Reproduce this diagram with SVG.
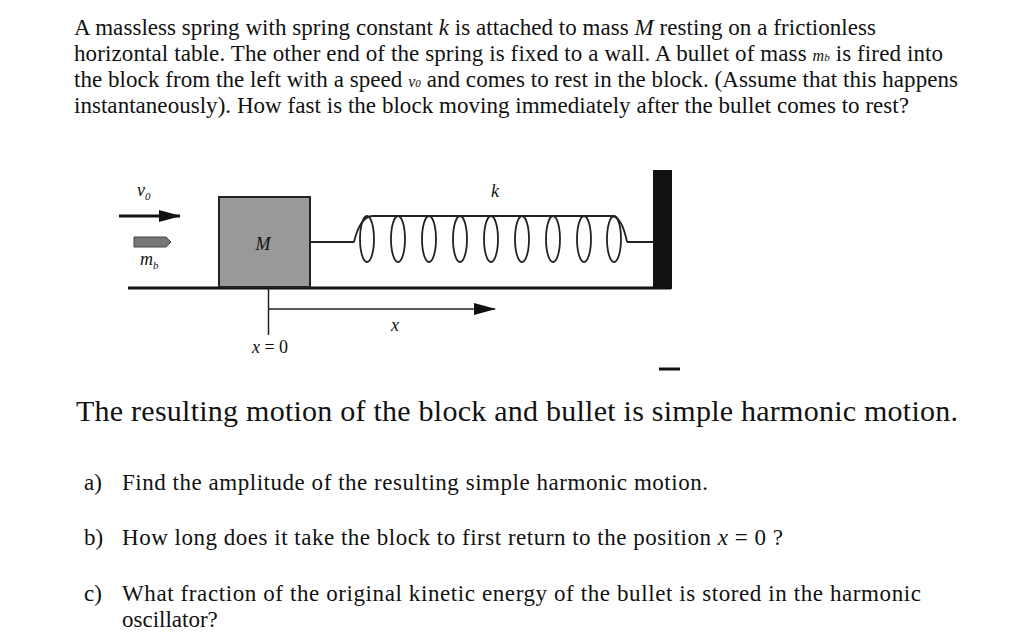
<svg xmlns="http://www.w3.org/2000/svg" width="1024" height="644" viewBox="0 0 1024 644">
<style>
text{font-family:"Liberation Serif",serif;fill:#111}
.p{font-size:23px}
.i{font-style:italic}
.s{fill:none;stroke:#222;stroke-width:1.8}
</style>
<defs><marker id="b" markerWidth="22" markerHeight="12" refX="21" refY="6" orient="auto" markerUnits="userSpaceOnUse"><path d="M0,0L22,6L0,12z" fill="#111"/></marker></defs>
<rect width="1024" height="644" fill="#fff"/>
<g id="question">
<text class="p" x="74" y="35" textLength="802" lengthAdjust="spacing">A massless spring with spring constant <tspan class="i">k</tspan> is attached to mass <tspan class="i">M</tspan> resting on a frictionless</text>
<text class="p" x="74" y="61" textLength="869" lengthAdjust="spacing">horizontal table. The other end of the spring is fixed to a wall. A bullet of mass <tspan class="i" font-size="16">m<tspan font-size="11">b</tspan></tspan> is fired into</text>
<text class="p" x="74" y="87" textLength="884" lengthAdjust="spacing">the block from the left with a speed <tspan class="i" font-size="16">v<tspan font-size="11">0</tspan></tspan> and comes to rest in the block. (Assume that this happens</text>
<text class="p" x="74" y="113" textLength="835" lengthAdjust="spacing">instantaneously). How fast is the block moving immediately after the bullet comes to rest?</text>
</g>
<g id="ground"><line x1="128" y1="288" x2="671" y2="288" stroke="#111" stroke-width="3"/></g>
<g id="wall"><rect x="653" y="170" width="19" height="119" fill="#111"/></g>
<g id="block"><rect x="219" y="197" width="91" height="90" fill="#999" stroke="#222" stroke-width="2"/>
<text x="263" y="250" font-size="18" class="i" text-anchor="middle">M</text></g>
<g id="spring">
<path class="s" d="M310,242H354M627,242H653M354,242Q360,217 372,216H612Q622,217 627,242"/>
<g class="s">
<ellipse cx="367" cy="239" rx="7" ry="23"/><ellipse cx="398" cy="239" rx="7" ry="23"/><ellipse cx="429" cy="239" rx="7" ry="23"/><ellipse cx="460" cy="239" rx="7" ry="23"/><ellipse cx="491" cy="239" rx="7" ry="23"/><ellipse cx="522" cy="239" rx="7" ry="23"/><ellipse cx="553" cy="239" rx="7" ry="23"/><ellipse cx="584" cy="239" rx="7" ry="23"/><ellipse cx="614" cy="239" rx="7" ry="23"/>
</g>
<text x="495" y="197" font-size="18" class="i" text-anchor="middle">k</text></g>
<g id="bullet"><path d="M134,237H166L171,242L166,247H134z" fill="#777" stroke="#444"/>
<text x="140" y="265" font-size="18" class="i">m<tspan font-size="11" dy="4">b</tspan></text></g>
<g id="velocity"><text x="137" y="196" font-size="18" class="i">v<tspan font-size="11" dy="4">0</tspan></text></g>
<g id="connectors">
<line x1="119" y1="216" x2="180" y2="216" stroke="#111" stroke-width="3" marker-end="url(#b)"/>
<line x1="268.5" y1="288" x2="268.5" y2="335" stroke="#222" stroke-width="1.5"/>
<line x1="268.5" y1="309" x2="495" y2="309" stroke="#222" stroke-width="1.5" marker-end="url(#b)"/>
</g>
<g id="labels">
<text x="395" y="331" font-size="18" class="i" text-anchor="middle">x</text>
<text x="270" y="353" font-size="18" text-anchor="middle"><tspan class="i">x</tspan> = 0</text>
<line x1="659" y1="369" x2="680" y2="369" stroke="#111" stroke-width="3"/>
</g>
<g id="parts">
<text x="76" y="421" font-size="30" textLength="882" lengthAdjust="spacing">The resulting motion of the block and bullet is simple harmonic motion.</text>
<text class="p" x="84" y="490">a)</text>
<text class="p" x="122" y="490" textLength="586" lengthAdjust="spacing">Find the amplitude of the resulting simple harmonic motion.</text>
<text class="p" x="84" y="545">b)</text>
<text class="p" x="122" y="545" textLength="661" lengthAdjust="spacing">How long does it take the block to first return to the position <tspan class="i">x</tspan> = 0 ?</text>
<text class="p" x="84" y="601">c)</text>
<text class="p" x="122" y="601" textLength="799" lengthAdjust="spacing">What fraction of the original kinetic energy of the bullet is stored in the harmonic</text>
<text class="p" x="122" y="627">oscillator?</text>
</g>
</svg>
